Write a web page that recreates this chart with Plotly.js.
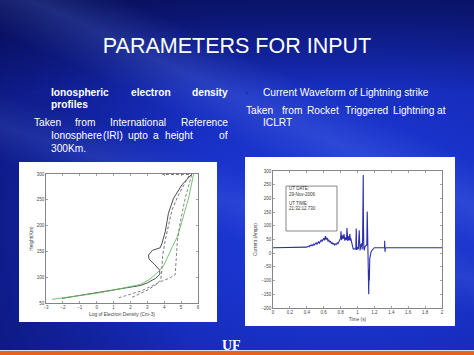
<!DOCTYPE html>
<html><head><meta charset="utf-8">
<script src="https://cdn.plot.ly/plotly-3.0.1.min.js"></script>
<style>
html,body{margin:0;padding:0;background:#0f1f98;overflow:hidden;}
#chart{width:474px;height:355px;
background:
 linear-gradient(205deg, rgba(110,140,240,0) 28%, rgba(110,140,240,0.22) 36%, rgba(110,140,240,0) 44%),
 linear-gradient(198deg, rgba(110,140,240,0) 48%, rgba(110,140,240,0.16) 55%, rgba(110,140,240,0) 62%),
 linear-gradient(180deg, rgba(4,8,60,0.6) 0%, rgba(4,8,60,0) 26%),
 linear-gradient(90deg, rgba(6,10,70,0.3) 0%, rgba(6,10,70,0) 40%),
 radial-gradient(ellipse at 72% 62%, #1f3ce0 0%, #172ec0 45%, #0e1a90 100%);
}
</style></head><body><div id="chart"></div>
<script>
// ---- Left chart: ionospheric electron density profiles ----
const densityTicks = [-3,-2,-1,0,1,2,3,4,5,6];
const heightTicks = [50,100,150,200,250,300];
const solidBlackLogNe = [-2.05,-1,0,1,2.0,2.6,3.0,3.5,3.75,3.72,3.45,3.1,3.07,3.3,3.76,3.86,4.06,4.25,4.55,5.05,5.64];
const solidBlackHeight = [59,64.5,69.5,75,80,84,89,98,106,114,124,135,143,152,157,165,188,224,253,279,300];
const solidGreenLogNe = [-2.65,-1,0,1,2.0,2.6,3.1,3.7,3.96,4.2,4.5,4.8,5.1,5.44,5.74];
const solidGreenHeight = [57,64,69,75,81,86,95,112,122,140,160,180,215,253,300];
const dashedALogNe = [1.3,1.6,2.2,2.6,3.2,3.76,4.3,4.65,4.7,4.75,4.78,4.95,5.24,5.64];
const dashedAHeight = [60,63,69,73,82,91,98,105,130,150,172,207,253,300];
const dashedBLogNe = [2.1,2.5,3.0,3.5,3.8,3.85,3.9,4.06,4.25,4.46,4.85,5.5,5.1,4.5,3.9];
const dashedBHeight = [61,67,75,85,95,110,140,172,200,230,260,299,299,299,299];

// ---- Right chart: current waveform ----
const timeTicks = [0,0.2,0.4,0.6,0.8,1,1.2,1.4,1.6,1.8,2];
const currentTicks = [-200,-150,-100,-50,0,50,100,150,200,250,300];
const timeS = [
 0,0.36,0.38,0.40,0.42,0.43,0.44,0.45,0.46,0.47,
 0.48,0.49,0.50,0.51,0.52,0.53,0.54,0.55,0.56,0.57,
 0.58,0.59,0.60,0.61,0.62,0.63,0.64,0.65,0.66,0.67,
 0.68,0.69,0.70,0.71,0.72,0.73,0.74,0.75,0.76,0.77,
 0.78,0.785,0.79,0.80,0.805,0.81,0.82,0.83,0.84,0.845,
 0.85,0.86,0.87,0.875,0.88,0.885,0.89,0.90,0.91,0.915,
 0.92,0.93,0.94,0.95,0.96,0.97,0.98,0.985,0.99,0.995,
 1.00,1.01,1.02,1.025,1.03,1.04,1.05,1.055,1.06,1.065,
 1.068,1.07,1.075,1.08,1.09,1.10,1.11,1.115,1.12,1.125,
 1.13,1.133,1.136,1.14,1.145,1.15,1.16,1.17,1.18,1.20,
 1.25,1.30,1.32,1.322,1.325,1.328,1.33,1.34,1.40,2.0];
const currentAmps = [
 20,20,20,22,26,24,29,27,31,28,
 33,30,35,38,33,40,42,37,45,48,
 43,52,55,47,62,50,56,45,48,40,
 44,36,38,33,36,30,34,32,38,35,
 42,40,45,55,80,48,65,52,70,50,
 46,58,48,92,50,45,62,48,70,46,
 55,40,18,15,16,14,15,90,12,14,
 22,15,84,16,10,30,35,14,40,190,
 285,120,20,10,25,28,30,152,10,6,
 -80,-150,-60,-100,-20,-5,5,10,15,20,
 20,20,20,45,5,30,18,20,20,20];
const infoLines = ["UT DATE:", "29-Nov-2006", "UT TIME:", "21:32:12.730"];

const W = 474, H = 355;
const px = v => v / W, py = v => 1 - v / H;
const SANS = '"Liberation Sans", Arial, sans-serif';
const FS = 10.2;

const traces = [
 {x: solidBlackLogNe, y: solidBlackHeight, mode:'lines', line:{color:'#3a3a3a', width:0.9}, xaxis:'x', yaxis:'y'},
 {x: solidGreenLogNe, y: solidGreenHeight, mode:'lines', line:{color:'#66bb66', width:0.9}, xaxis:'x', yaxis:'y'},
 {x: dashedALogNe, y: dashedAHeight, mode:'lines', line:{color:'#777', width:0.9, dash:'3px,2px'}, xaxis:'x', yaxis:'y'},
 {x: dashedBLogNe, y: dashedBHeight, mode:'lines', line:{color:'#666', width:0.9, dash:'3px,2px'}, xaxis:'x', yaxis:'y'},
 {x: timeS, y: currentAmps, mode:'lines', line:{color:'#2a2ea8', width:1.1}, xaxis:'x2', yaxis:'y2'}
];

const axBase = {
 showgrid:false, zeroline:false, showline:true, linecolor:'#666', linewidth:0.8,
 mirror:'ticks', ticks:'inside', ticklen:2, tickwidth:0.6, tickcolor:'#666',
 tickfont:{family:SANS, size:4.5, color:'#444'}, automargin:false, layer:'below traces'
};

const layout = {
 width: W, height: H,
 margin:{l:0,r:0,t:0,b:0},
 paper_bgcolor:'rgba(0,0,0,0)', plot_bgcolor:'#ffffff',
 showlegend:false,
 title:{text:'PARAMETERS FOR INPUT', x:0.5, xanchor:'center', y:py(45), yanchor:'middle',
   font:{family:SANS, size:21.5, color:'#ffffff'}},
 xaxis: Object.assign({}, axBase, {domain:[px(46), px(198)], anchor:'y', range:[-3,6], tickvals:densityTicks,
   title:{text:'Log of Electron Density (Cm-3)', font:{family:SANS, size:4.8, color:'#444'}, standoff:3}}),
 yaxis: Object.assign({}, axBase, {domain:[py(303), py(174)], anchor:'x', range:[50,300], tickvals:heightTicks,
   title:{text:'Height(Km)', font:{family:SANS, size:4.8, color:'#444'}, standoff:3}}),
 xaxis2: Object.assign({}, axBase, {domain:[px(273), px(442)], anchor:'y2', range:[0,2], tickvals:timeTicks,
   title:{text:'Time (s)', font:{family:SANS, size:4.8, color:'#444'}, standoff:3}}),
 yaxis2: Object.assign({}, axBase, {domain:[py(308), py(171)], anchor:'x2', range:[-200,300], tickvals:currentTicks,
   title:{text:'Current (Amps)', font:{family:SANS, size:4.8, color:'#444'}, standoff:3}}),
 shapes:[
  {type:'rect', xref:'paper', yref:'paper', x0:px(19), x1:px(217), y0:py(322), y1:py(162), fillcolor:'#ffffff', line:{width:0}, layer:'below'},
  {type:'rect', xref:'paper', yref:'paper', x0:px(245), x1:px(455), y0:py(326), y1:py(157), fillcolor:'#ffffff', line:{width:0}, layer:'below'},
  {type:'rect', xref:'x2', yref:'y2', x0:0.154, x1:0.757, y0:81, y1:245, fillcolor:'rgba(0,0,0,0)', line:{color:'#555', width:0.7}},
  {type:'rect', xref:'paper', yref:'paper', x0:0, x1:1, y0:0, y1:py(351), fillcolor:'#e8621e', line:{width:0}},
  {type:'line', xref:'paper', yref:'paper', x0:0, x1:1, y0:py(350.5), y1:py(350.5), line:{color:'#d8dcf0', width:1}}
 ],
 annotations:[]
};

function addText(t, x, y, anchor, opts){
 layout.annotations.push(Object.assign({text:t, xref:'paper', yref:'paper', x:px(x), y:py(y),
   xanchor:anchor||'left', yanchor:'middle', showarrow:false, borderpad:0, borderwidth:0,
   font:{family:SANS, size:FS, color:'#ffffff'}}, opts||{}));
}
// left column (justified: words placed individually)
addText('<b>Ionospheric</b>', 50.7, 92); addText('<b>electron</b>', 150.5, 92, 'center'); addText('<b>density</b>', 228, 92, 'right');
addText('<b>profiles</b>', 50.7, 104.5);
addText('Taken', 34, 122.5); addText('from', 84.5, 122.5, 'center'); addText('International', 138, 122.5, 'center'); addText('Reference', 228, 122.5, 'right');
addText('Ionosphere', 50.7, 135.5); addText('(IRI)', 113, 135.5, 'center'); addText('upto', 137.5, 135.5, 'center'); addText('a', 155.5, 135.5, 'center'); addText('height', 179, 135.5, 'center'); addText('of', 228, 135.5, 'right');
addText('300Km.', 50.7, 148);
// right column
addText('Current Waveform of Lightning strike', 263, 92);
addText('Taken', 246, 110.5); addText('from', 292, 110.5, 'center'); addText('Rocket', 323, 110.5, 'center'); addText('Triggered', 366.5, 110.5, 'center'); addText('Lightning', 414, 110.5, 'center'); addText('at', 446, 110.5, 'right');
addText('ICLRT', 263, 122.5);
// faint bullets
addText('\u25AA', 33, 92, 'left', {font:{family:SANS, size:8, color:'rgba(30,40,120,0.7)'}});
addText('\u25AA', 246, 92, 'left', {font:{family:SANS, size:8, color:'rgba(30,40,120,0.7)'}});
// info box text inside right chart
[189, 194, 203, 208].forEach((yy, i) => {
 layout.annotations.push({text: infoLines[i], xref:'paper', yref:'paper', x:px(288), y:py(yy), xanchor:'left', yanchor:'middle',
  showarrow:false, borderpad:0, font:{family:SANS, size:4.5, color:'#333'}});
});
// UF logo
addText('<b>UF</b>', 231, 345, 'center', {font:{family:'"Liberation Serif", "DejaVu Serif", serif', size:14, color:'#ffffff'}});

Plotly.newPlot('chart', traces, layout, {staticPlot:true, displayModeBar:false});
</script>
</body></html>
